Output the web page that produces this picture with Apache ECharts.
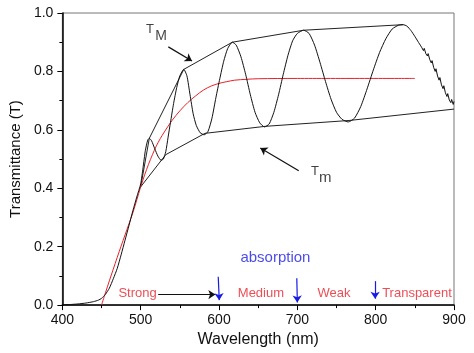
<!DOCTYPE html>
<html>
<head>
<meta charset="utf-8">
<script src="https://cdn.jsdelivr.net/npm/echarts@6/dist/echarts.min.js"></script>
<style>
html,body{margin:0;padding:0;background:#fff;}
#chart{width:474px;height:353px;}
</style>
</head>
<body>
<div id="chart"></div>
<script>
// ---- data (wavelength nm, transmittance) ----
var xTicks = [400, 500, 600, 700, 800, 900];
var yTicks = [0.0, 0.2, 0.4, 0.6, 0.8, 1.0];

var measuredT = [
  [400,0.001],[410,0.002],[420,0.004],[430,0.007],[440,0.012],[446,0.017],[450,0.023],[455,0.037],
  [460,0.058],[465,0.09],[470,0.125],[475,0.172],[480,0.222],[485,0.272],[490,0.323],[495,0.37],
  [500,0.415],[503,0.47],[506,0.53],[509,0.565],[511,0.571],[514,0.562],[518,0.535],[522,0.51],
  [526,0.496],[529,0.5],[532,0.525],[535,0.575],[538,0.625],[542,0.69],[546,0.745],[550,0.785],
  [555,0.807],[559,0.785],[563,0.72],[567,0.655],[571,0.615],[576,0.59],[581,0.583],[586,0.595],
  [591,0.64],[596,0.71],[601,0.775],[606,0.835],[611,0.878],[617,0.9],[622,0.89],[628,0.85],
  [634,0.79],[640,0.72],[646,0.66],[652,0.624],[658,0.61],[664,0.62],[670,0.66],[676,0.72],
  [682,0.79],[688,0.855],[694,0.905],[700,0.93],[708,0.941],[715,0.93],[722,0.89],[729,0.83],
  [736,0.765],[743,0.705],[750,0.66],[757,0.636],[765,0.627],[773,0.64],[781,0.68],[789,0.74],
  [797,0.805],[805,0.865],[813,0.912],[821,0.945],[829,0.958],[835,0.96],[840,0.955],[845,0.94],
  [850,0.92],[855,0.898],[857,0.89],[859,0.881],[861,0.871],[862,0.879],[864,0.861],[866,0.853],
  [867,0.861],[869,0.841],[871,0.829],[872,0.837],[874,0.814],[876,0.8],[877,0.809],[879,0.784],
  [881,0.77],[882,0.779],[884,0.754],[886,0.741],[887,0.751],[889,0.727],[891,0.714],[892,0.724],
  [894,0.702],[896,0.693],[897,0.704],[899,0.687],[900,0.697]
];
var noisyFrom = 855; // start of the noisy tail of the measured curve

var fittedT = [
  [450,0.0],[455,0.042],[460,0.083],[465,0.123],[470,0.163],[475,0.202],[480,0.24],[485,0.278],
  [490,0.316],[495,0.36],[500,0.405],[505,0.445],[510,0.482],[515,0.515],[520,0.545],[525,0.57],
  [530,0.592],[540,0.632],[550,0.665],[560,0.693],[570,0.716],[580,0.736],[590,0.75],[600,0.759],
  [610,0.765],[620,0.77],[635,0.773],[650,0.775],[700,0.776],[850,0.776]
];

var envelopeMax = [[500,0.405],[511,0.571],[555,0.807],[617,0.9],[708,0.941],[835,0.96]];
var envelopeMin = [[500,0.405],[532,0.515],[582,0.588],[659,0.612],[766,0.632],[900,0.671]];

// ---- annotation texts & arrows (in data coordinates) ----
var annoTexts = [
  {text:'T', at:[512,0.944], color:'#111', size:13},
  {text:'M', at:[526,0.922], color:'#111', size:14},
  {text:'T', at:[722.5,0.458], color:'#111', size:13},
  {text:'m', at:[735.5,0.437], color:'#111', size:15},
  {text:'absorption', at:[672,0.162], color:'#1a1ae6', size:15},
  {text:'Strong', at:[496,0.041], color:'#e8202a', size:13},
  {text:'Medium', at:[653.5,0.041], color:'#e8202a', size:13},
  {text:'Weak', at:[746.8,0.041], color:'#e8202a', size:13},
  {text:'Transparent', at:[852.7,0.041], color:'#e8202a', size:13}
];
var annoArrows = [
  {from:[535.3,0.884], to:[565.5,0.836], color:'#111'},
  {from:[701.8,0.46], to:[652.7,0.538], color:'#111'},
  {from:[522.3,0.036], to:[595.3,0.036], color:'#111'},
  {from:[599,0.097], to:[600.3,0.017], color:'#1a1ae6'},
  {from:[699.3,0.092], to:[700,0.009], color:'#1a1ae6'},
  {from:[799.3,0.082], to:[799.3,0.022], color:'#1a1ae6'}
];

var FONT = 'Liberation Sans, Arial, sans-serif';
var chart = echarts.init(document.getElementById('chart'), null, {renderer:'canvas'});

var mainPart = measuredT.filter(function(p){return p[0] <= noisyFrom;});
var tailPart = measuredT.filter(function(p){return p[0] >= noisyFrom;});

var arrowSeries = annoArrows.map(function(a){
  return {
    type:'line', data:[], symbol:'none', z:6,
    markLine:{
      silent:true, animation:false, symbol:['none','arrow'], symbolSize:7,
      label:{show:false},
      lineStyle:{color:a.color, width:1.2, type:'solid'},
      itemStyle:{color:a.color},
      emphasis:{disabled:true},
      data:[[{coord:a.from},{coord:a.to}]]
    }
  };
});

var option = {
  animation:false,
  backgroundColor:'#fff',
  grid:{left:57, right:20, top:13, bottom:46, show:true, borderColor:'#777', borderWidth:1, backgroundColor:'transparent'},
  xAxis:{
    type:'value', min:xTicks[0], max:xTicks[xTicks.length-1], interval:100,
    name:'Wavelength (nm)', nameLocation:'middle', nameGap:21,
    nameTextStyle:{fontSize:16, color:'#111', fontFamily:FONT},
    axisLine:{show:true, onZero:false, lineStyle:{color:'#000', width:1.5}},
    axisTick:{show:true, inside:false, length:5, lineStyle:{color:'#000', width:1}},
    minorTick:{show:true, splitNumber:2, length:3, lineStyle:{color:'#000', width:1}},
    splitLine:{show:false},
    axisLabel:{fontSize:14, color:'#111', margin:8, fontFamily:FONT}
  },
  yAxis:{
    type:'value', min:yTicks[0], max:yTicks[yTicks.length-1], interval:0.2,
    name:'Transmittance (T)', nameLocation:'middle', nameGap:35, nameRotate:90,
    nameTextStyle:{fontSize:15, color:'#111', fontFamily:FONT},
    axisLine:{show:true, onZero:false, lineStyle:{color:'#000', width:1.5}},
    axisTick:{show:true, inside:false, length:5, lineStyle:{color:'#000', width:1}},
    minorTick:{show:true, splitNumber:2, length:3, lineStyle:{color:'#000', width:1}},
    splitLine:{show:false},
    axisLabel:{fontSize:14, color:'#111', margin:9, fontFamily:FONT, formatter:function(v){return v.toFixed(1);}}
  },
  series:[
    {type:'line', name:'envMax', data:envelopeMax, symbol:'none', lineStyle:{color:'#222', width:1}, z:2},
    {type:'line', name:'envMin', data:envelopeMin, symbol:'none', lineStyle:{color:'#222', width:1}, z:2},
    {type:'line', name:'fit', data:fittedT, symbol:'none', smooth:0.3, lineStyle:{color:'#e8202a', width:1}, z:3},
    {type:'line', name:'measured', data:mainPart, symbol:'none', smooth:0.2, lineStyle:{color:'#111', width:1}, z:4},
    {type:'line', name:'measuredTail', data:tailPart, symbol:'none', smooth:false, lineStyle:{color:'#111', width:1}, z:4},
    {type:'scatter', name:'texts', symbolSize:1, itemStyle:{color:'transparent'}, z:5,
      data: annoTexts.map(function(t){
        return {value:t.at, label:{show:true, position:'inside', formatter:t.text, color:t.color, fontSize:t.size, fontFamily:FONT}};
      })
    }
  ].concat(arrowSeries)
};
chart.setOption(option);
</script>
</body>
</html>
